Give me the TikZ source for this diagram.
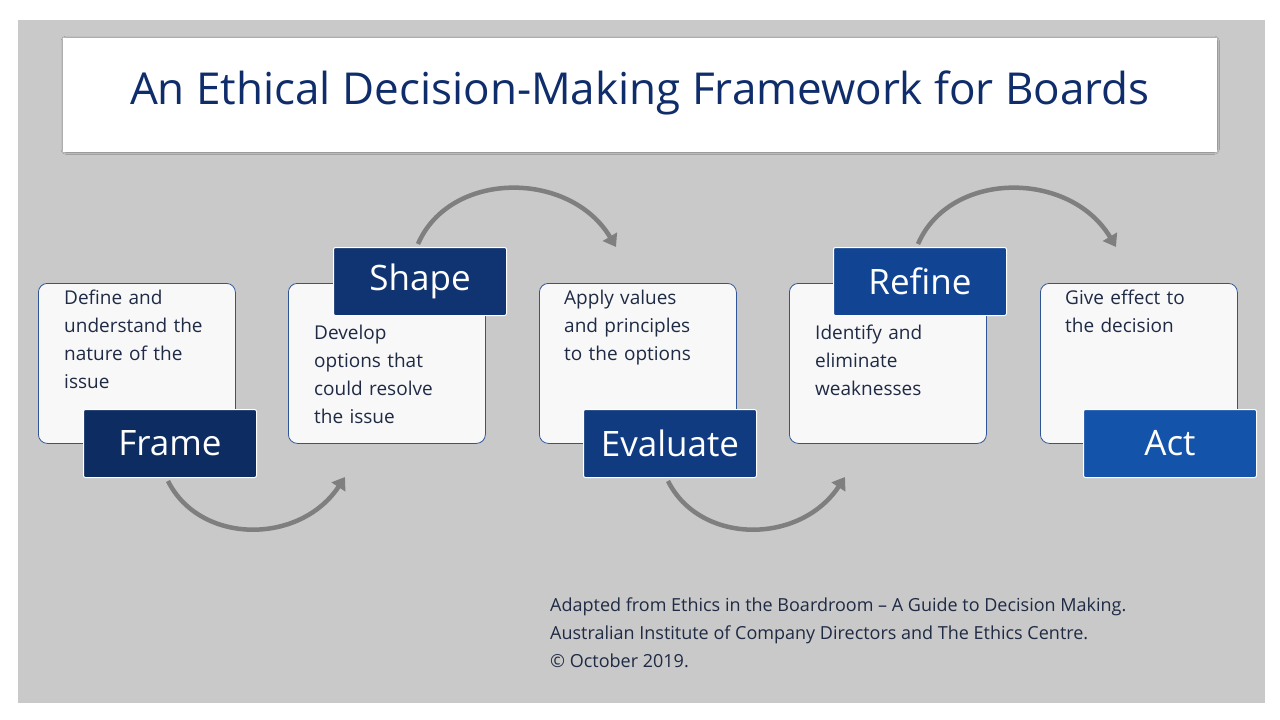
\documentclass[tikz,border=0pt]{standalone}
\usepackage{fontspec}
\setmainfont{Open Sans}
\usetikzlibrary{shadows.blur,arrows.meta}
\definecolor{bg}{HTML}{C9C9C9}
\definecolor{ttl}{HTML}{0F2D6B}
\definecolor{txt}{HTML}{1F2A44}
\definecolor{bord}{HTML}{2F5597}
\definecolor{boxf}{HTML}{F8F8F8}
\definecolor{c1}{HTML}{0D2C62}
\definecolor{c2}{HTML}{0F3471}
\definecolor{c3}{HTML}{113B80}
\definecolor{c4}{HTML}{124494}
\definecolor{c5}{HTML}{1453AA}
\definecolor{arr}{HTML}{7F7F7F}
\begin{document}
\begin{tikzpicture}[x=1pt,y=-1pt,
 box/.style={draw=bord,fill=boxf,rounded corners=9pt,line width=0.8pt,minimum width=197pt,minimum height=160pt,anchor=north west},
 btxt/.style={anchor=north west,text=txt,font=\fontsize{19}{28}\selectfont,align=left,text width=170pt,inner sep=0pt},
 lab/.style={draw=white,line width=1pt,rounded corners=2pt,minimum width=173pt,minimum height=68pt,anchor=north west,text=white,font=\fontsize{35}{40}\selectfont},
 arc/.style={draw=arr,line width=4.5pt,-{Triangle[length=12pt,width=16pt]}}]
\useasboundingbox (0,0) rectangle (1280,720);
\fill[white] (0,0) rectangle (1280,720);
\fill[bg] (18,20) rectangle (1265,703);
\node[fill=white,blur shadow={shadow blur steps=8,shadow xshift=0pt,shadow yshift=0pt,shadow blur extra rounding=3pt},minimum width=1154pt,minimum height=114pt,anchor=north west,inner sep=0pt] (title) at (63,38) {};
\node[text=ttl,font=\fontsize{44}{50}\selectfont] (tt) at (640,93) {An Ethical Decision-Making Framework for Boards};
% boxes
\node[box] (b1) at (38,283) {};
\node[box] (b2) at (288,283) {};
\node[box] (b3) at (539,283) {};
\node[box] (b4) at (789,283) {};
\node[box] (b5) at (1040,283) {};
\node[btxt] (t1) at (64,290) {Define and\\understand the\\nature of the\\issue};
\node[btxt] (t2) at (314,325) {Develop\\options that\\could resolve\\the issue};
\node[btxt] (t3) at (564,290) {Apply values\\and principles\\to the options};
\node[btxt] (t4) at (815,325) {Identify and\\eliminate\\weaknesses};
\node[btxt] (t5) at (1065,290) {Give effect to\\the decision};
\node[lab,fill=c1] (l1) at (83,409) {Frame};
\node[lab,fill=c2] (l2) at (333,247) {Shape};
\node[lab,fill=c3] (l3) at (583,409) {Evaluate};
\node[lab,fill=c4] (l4) at (833,247) {Refine};
\node[lab,fill=c5] (l5) at (1083,409) {Act};
% arrows
\coordinate (a1s) at (168,481); \coordinate (a1e) at (345,477);
\coordinate (a2s) at (418,244); \coordinate (a2e) at (616,247);
\coordinate (a3s) at (668,481); \coordinate (a3e) at (845,477);
\coordinate (a4s) at (918,244); \coordinate (a4e) at (1116,247);
\draw[arc] (a1s) .. controls (200,545) and (300,545) .. (a1e);
\draw[arc] (a2s) .. controls (450,170) and (570,170) .. (a2e);
\draw[arc] (a3s) .. controls (700,545) and (800,545) .. (a3e);
\draw[arc] (a4s) .. controls (950,170) and (1070,170) .. (a4e);
\node[anchor=north west,text=txt,font=\fontsize{18}{28}\selectfont,align=left,inner sep=0pt] (foot) at (550,598) {Adapted from Ethics in the Boardroom – A Guide to Decision Making.\\Australian Institute of Company Directors and The Ethics Centre.\\© October 2019.};
\end{tikzpicture}
\end{document}
